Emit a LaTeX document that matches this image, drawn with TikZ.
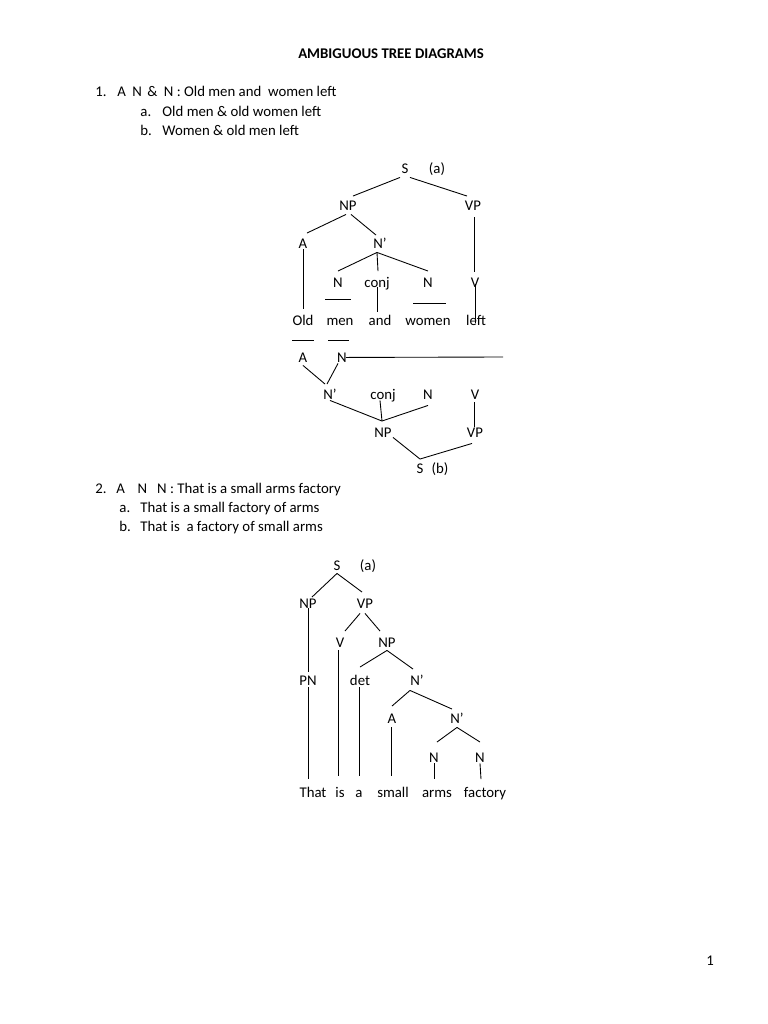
\documentclass[tikz,border=0pt]{standalone}
\usepackage{fontspec}
\setmainfont{Carlito}
\begin{document}
\begin{tikzpicture}[x=0.797pt,y=-0.797pt,
  every node/.style={font=\fontsize{11.8pt}{14pt}\selectfont, inner sep=0pt, anchor=base},
  lbl/.style={text height=7.6pt, text depth=0pt},
  txt/.style={anchor=base west},
  ttl/.style={font=\fontsize{11.8pt}{14pt}\selectfont\bfseries},
  every path/.style={line width=0.7pt},
]
\useasboundingbox[fill=white] (0,0) rectangle (768,1024);

% ---------- header texts ----------
\node[ttl] (title) at (391,58) {AMBIGUOUS TREE DIAGRAMS};
\node[txt] (n1) at (95,96) {1.};
\node[txt] (h1) at (117,96) {A\hspace{5pt}N\hspace{4.5pt}\&\hspace{5pt}N : Old men and\ \ women left};
\node[txt] (h1a) at (140,116) {a.};
\node[txt] (h1at) at (162,116) {Old men \& old women left};
\node[txt] (h1b) at (140,135) {b.};
\node[txt] (h1bt) at (162,135) {Women \& old men left};

\node[txt] (n2) at (95,493) {2.};
\node[txt] (h2) at (116,493) {A\hspace{10pt}N\hspace{8pt}N : That is a small arms factory};
\node[txt] (h2a) at (119,512) {a.};
\node[txt] (h2at) at (140,512) {That is a small factory of arms};
\node[txt] (h2b) at (119,531) {b.};
\node[txt] (h2bt) at (140,531) {That is\ \ a factory of small arms};

\node (pg) at (710,965) {1};

% ---------- tree 1 (a) ----------
\node[lbl] (S1) at (405,173) {S};
\node (a1) at (437,173) {(a)};
\node[lbl] (NP1) at (348,210) {NP};
\node[lbl] (VP1) at (473,210) {VP};
\node[lbl] (A1) at (303,248) {A};
\node[lbl] (Nb1) at (380,248) {N'};
\node[lbl] (N1) at (338,287) {N};
\node[lbl] (conj1) at (377,287) {conj};
\node[lbl] (N2) at (428,287) {N};
\node[lbl] (V1) at (475,287) {V};
\node[lbl] (Old) at (303,325) {Old};
\node[lbl] (men) at (340,325) {men};
\node[lbl] (and) at (380,325) {and};
\node[lbl] (women) at (428,325) {women};
\node[lbl] (left) at (476,325) {left};

\draw ([shift={(-5,4)}]S1.south) -- ([shift={(5,-4)}]NP1.north);
\draw ([shift={(5,4)}]S1.south) -- ([shift={(-6,-4)}]VP1.north);
\draw ([shift={(-2,4)}]NP1.south) -- ([shift={(4,-5)}]A1.north);
\draw ([shift={(3,4)}]NP1.south) -- ([shift={(-4,-3)}]Nb1.north);
\draw ([shift={(0,1)}]A1.south) -- ([shift={(0,-6)}]Old.north);
\draw ([shift={(-3,4)}]Nb1.south) -- ([shift={(0,-6)}]N1.north);
\draw ([shift={(-3,4)}]Nb1.south) -- ([shift={(1,-6)}]conj1.north);
\draw ([shift={(-3,4)}]Nb1.south) -- ([shift={(0,-6)}]N2.north);
\draw ([shift={(0,0)}]conj1.south) -- ([shift={(-3,-3)}]and.north);
\draw ([shift={(1,7)}]VP1.south) -- ([shift={(-1,-5)}]V1.north);
\draw ([shift={(0,-3)}]V1.south) -- ([shift={(-1,-2)}]left.south);

% short bars
\draw (325,299) -- (351,299);
\draw (413,303) -- (446,303);
\draw (292,340) -- (314,340);
\draw (328,340) -- (349,340);

% ---------- tree 1 (b) ----------
\node[lbl] (A2) at (303,362) {A};
\node[lbl] (N3) at (342,362) {N};
\coordinate (hlend) at (503,357);
\node[lbl] (Nb2) at (330,399) {N'};
\node[lbl] (conj2) at (383,399) {conj};
\node[lbl] (N4) at (428,399) {N};
\node[lbl] (V2) at (475,399) {V};
\node[lbl] (NP2) at (383,437) {NP};
\node[lbl] (VP2) at (475,437) {VP};
\node[lbl] (S2) at (420,473) {S};
\node (b2) at (440,473) {(b)};

\draw ([shift={(4,-5)}]N3.south) -- (hlend);
\draw ([shift={(0,3)}]A2.south) -- ([shift={(-5,-5)}]Nb2.north);
\draw ([shift={(-4,1)}]N3.south) -- ([shift={(-3,-5)}]Nb2.north);
\draw ([shift={(0,1)}]Nb2.south) -- ([shift={(-1,-6)}]NP2.north);
\draw ([shift={(-3,1)}]conj2.south) -- ([shift={(-1,-6)}]NP2.north);
\draw ([shift={(0,6)}]N4.south) -- ([shift={(-1,-6)}]NP2.north);
\draw ([shift={(-1,3)}]V2.south) -- ([shift={(-1,0)}]VP2.north);
\draw ([shift={(10,0)}]NP2.south) -- ([shift={(0,-4)}]S2.north);
\draw ([shift={(-3,6)}]VP2.south) -- ([shift={(0,-4)}]S2.north);

% ---------- tree 2 (a) ----------
\node[lbl] (S3) at (337,570) {S};
\node (a3) at (368,570) {(a)};
\node[lbl] (NP3) at (308,608) {NP};
\node[lbl] (VP3) at (365,608) {VP};
\node[lbl] (V3) at (340,647) {V};
\node[lbl] (NP4) at (387,647) {NP};
\node[lbl] (PN) at (308,685) {PN};
\node[lbl] (det) at (360,685) {det};
\node[lbl] (Nb3) at (417,685) {N'};
\node[lbl] (A3) at (392,723) {A};
\node[lbl] (Nb4) at (457,723) {N'};
\node[lbl] (N5) at (434,762) {N};
\node[lbl] (N6) at (480,762) {N};
\node[lbl] (That) at (313,797) {That};
\node[lbl] (is) at (340,797) {is};
\node[lbl] (aw) at (359,797) {a};
\node[lbl] (small) at (393,797) {small};
\node[lbl] (arms) at (437,797) {arms};
\node[lbl] (factory) at (485,797) {factory};

\draw ([shift={(0,3)}]S3.south) -- ([shift={(4,-1)}]NP3.north);
\draw ([shift={(0,3)}]S3.south) -- ([shift={(-3,-6)}]VP3.north);
\draw ([shift={(0,0)}]NP3.south) -- ([shift={(0,-3)}]PN.north);
\draw ([shift={(0,2)}]PN.south) -- ([shift={(-5,-8)}]That.north);
\draw ([shift={(-5,5)}]VP3.south) -- ([shift={(5,-6)}]V3.north);
\draw ([shift={(0,5)}]VP3.south) -- ([shift={(-7,-6)}]NP4.north);
\draw ([shift={(-2,3)}]V3.south) -- ([shift={(-2,-11)}]is.north);
\draw ([shift={(0,3)}]NP4.south) -- ([shift={(0,-8)}]det.north);
\draw ([shift={(0,3)}]NP4.south) -- ([shift={(-4,-6)}]Nb3.north);
\draw ([shift={(-1,2)}]det.south) -- ([shift={(0,-11)}]aw.north);
\draw ([shift={(-7,5)}]Nb3.south) -- ([shift={(0,-7)}]A3.north);
\draw ([shift={(-7,5)}]Nb3.south) -- ([shift={(-5,-4)}]Nb4.north);
\draw ([shift={(-1,4)}]A3.south) -- ([shift={(-2,-11)}]small.north);
\draw ([shift={(0,4)}]Nb4.south) -- ([shift={(3,-10)}]N5.north);
\draw ([shift={(0,4)}]Nb4.south) -- ([shift={(0,-10)}]N6.north);
\draw ([shift={(0,1)}]N5.south) -- ([shift={(-3,-8)}]arms.north);
\draw ([shift={(0,1)}]N6.south) -- ([shift={(-4,-8)}]factory.north);
\end{tikzpicture}
\end{document}
